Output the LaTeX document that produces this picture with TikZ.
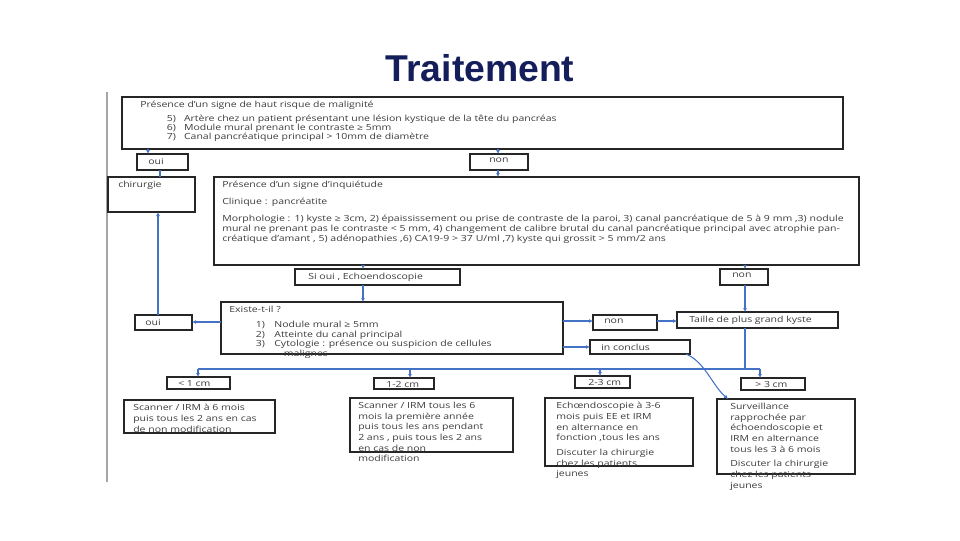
\documentclass[tikz,border=0pt]{standalone}
\usepackage{fontspec}
\setmainfont{Open Sans}[FakeStretch=1.25]
\usetikzlibrary{arrows.meta}
\definecolor{conn}{RGB}{68,114,196}
\definecolor{ttl}{RGB}{20,30,90}
\definecolor{txt}{RGB}{60,60,60}
\begin{document}
\begin{tikzpicture}[x=0.75pt,y=-0.75pt,
 bx/.style={draw=black!85,line width=0.8pt},
 tx/.style={anchor=north west,inner sep=0pt,text=txt,font=\fontsize{6.3}{8}\selectfont,align=left},
 cn/.style={draw=conn,line width=0.8pt,-{Latex[length=3pt,width=3pt]}},
 ln/.style={draw=conn,line width=0.8pt}]
\useasboundingbox (0,0) rectangle (960,540);
\node[font=\fontspec{Liberation Sans}\bfseries\fontsize{28}{30}\selectfont,text=ttl] (title) at (480,68) {Traitement};
\draw[black!35,line width=0.8pt] (107,92) -- (107,482);
% boxes
\draw[bx] (122,97) rectangle (843,149);
\node[tx,font=\fontsize{6.3}{7}\selectfont] (t1) at (140,101) {Présence d'un signe de haut risque de malignité\\[3pt]
\hspace*{20pt}5)\hspace{6pt}Artère chez un patient présentant une lésion kystique de la tête du pancréas\\
\hspace*{20pt}6)\hspace{6pt}Module mural prenant le contraste ≥ 5mm\\
\hspace*{20pt}7)\hspace{6pt}Canal pancréatique principal > 10mm de diamètre};
\draw[bx] (137,154) rectangle (188,170); \node[tx] (oui1) at (148,158) {oui};
\draw[bx] (470,154) rectangle (528,170); \node[tx] (non1) at (489,158) {non};
\draw[bx] (108,177) rectangle (195,212); \node[tx] (chir) at (118,181) {chirurgie};
\draw[bx] (214,177) rectangle (859,265);
\node[tx,text width=472pt,font=\fontsize{6.3}{7.6}\selectfont] (inq) at (222,181) {Présence d'un signe d'inquiétude\\[5pt]
Clinique : pancréatite\\[5pt]
Morphologie : 1) kyste ≥ 3cm, 2) épaississement ou prise de contraste de la paroi, 3) canal pancréatique de 5 à 9 mm ,3) nodule mural ne prenant pas le contraste < 5 mm, 4) changement de calibre brutal du canal pancréatique principal avec atrophie pancréatique d'amant , 5) adénopathies ,6) CA19-9 > 37 U/ml ,7) kyste qui grossit > 5 mm/2 ans};
\draw[bx] (295,269) rectangle (460,285); \node[tx] (si) at (308,273) {Si oui , Echoendoscopie};
\draw[bx] (720,269) rectangle (768,285); \node[tx] (non2) at (732,273) {non};
\draw[bx] (221,302) rectangle (563,354);
\node[tx,font=\fontsize{6.3}{7.2}\selectfont] (ex) at (229,306) {Existe-t-il ?\\[4pt]
\hspace*{20pt}1)\hspace{7pt}Nodule mural ≥ 5mm\\
\hspace*{20pt}2)\hspace{7pt}Atteinte du canal principal\\
\hspace*{20pt}3)\hspace{7pt}Cytologie : présence ou suspicion de cellules\\
\hspace*{41pt}malignes};
\draw[bx] (135,315) rectangle (192,330); \node[tx] (oui2) at (145,319) {oui};
\draw[bx] (593,315) rectangle (657,330); \node[tx] (non3) at (604,319) {non};
\draw[bx] (677,312) rectangle (838,328); \node[tx] (taille) at (689,316) {Taille de plus grand kyste};
\draw[bx] (590,340) rectangle (690,354); \node[tx] (inc) at (601,344) {in conclus};
\draw[bx] (167,377) rectangle (230,389); \node[tx] (s1) at (178,380) {< 1 cm};
\draw[bx] (374,378) rectangle (434,389); \node[tx] (s2) at (386,381) {1-2 cm};
\draw[bx] (575,376) rectangle (630,388); \node[tx] (s3) at (588,379) {2-3 cm};
\draw[bx] (741,378) rectangle (805,390); \node[tx] (s4) at (755,381) {> 3 cm};
\draw[bx] (124,400) rectangle (275,433);
\node[tx] (b1) at (133,404) {Scanner / IRM à 6 mois\\puis tous les 2 ans en cas\\de non modification};
\draw[bx] (350,398) rectangle (513,452);
\node[tx] (b2) at (358,402) {Scanner / IRM tous les 6\\mois la première année\\puis tous les ans pendant\\2 ans , puis tous les 2 ans\\en cas de non\\modification};
\draw[bx] (545,398) rectangle (693,466);
\node[tx] (b3) at (556,402) {Echœndoscopie à 3-6\\mois puis EE et IRM\\en alternance en\\fonction ,tous les ans\\[3pt]Discuter la chirurgie\\chez les patients\\jeunes};
\draw[bx] (717,399) rectangle (855,474);
\node[tx] (b4) at (730,403) {Surveillance\\rapprochée par\\échoendoscopie et\\IRM en alternance\\tous les 3 à 6 mois\\[3pt]Discuter la chirurgie\\chez les patients\\jeunes};
% connectors
\draw[cn] (148,149) -- (148,154);
\draw[cn] (498,149) -- (498,154);
\draw[ln] (160,170) -- (160,177);
\draw[cn] (498,170) -- (498,177);
\draw[cn] (363,265) -- (363,269);
\draw[cn] (745,265) -- (745,269);
\draw[cn] (363,285) -- (363,302);
\draw[cn] (745,285) -- (745,312);
\draw[cn] (221,322) -- (192,322);
\draw[cn] (158,315) -- (158,212);
\draw[cn] (563,321) -- (593,321);
\draw[cn] (657,321) -- (677,321);
\draw[cn] (563,347) -- (590,347);
\draw[ln] (745,328) -- (745,369);
\draw[ln] (198,369) -- (760,369);
\draw[cn] (198,369) -- (198,377);
\draw[cn] (410,369) -- (410,378);
\draw[cn] (600,369) -- (600,376);
\draw[cn] (760,369) -- (760,378);
\draw[cn] (686,354) .. controls (705,362) and (712,385) .. (728,399);
\end{tikzpicture}
\end{document}
